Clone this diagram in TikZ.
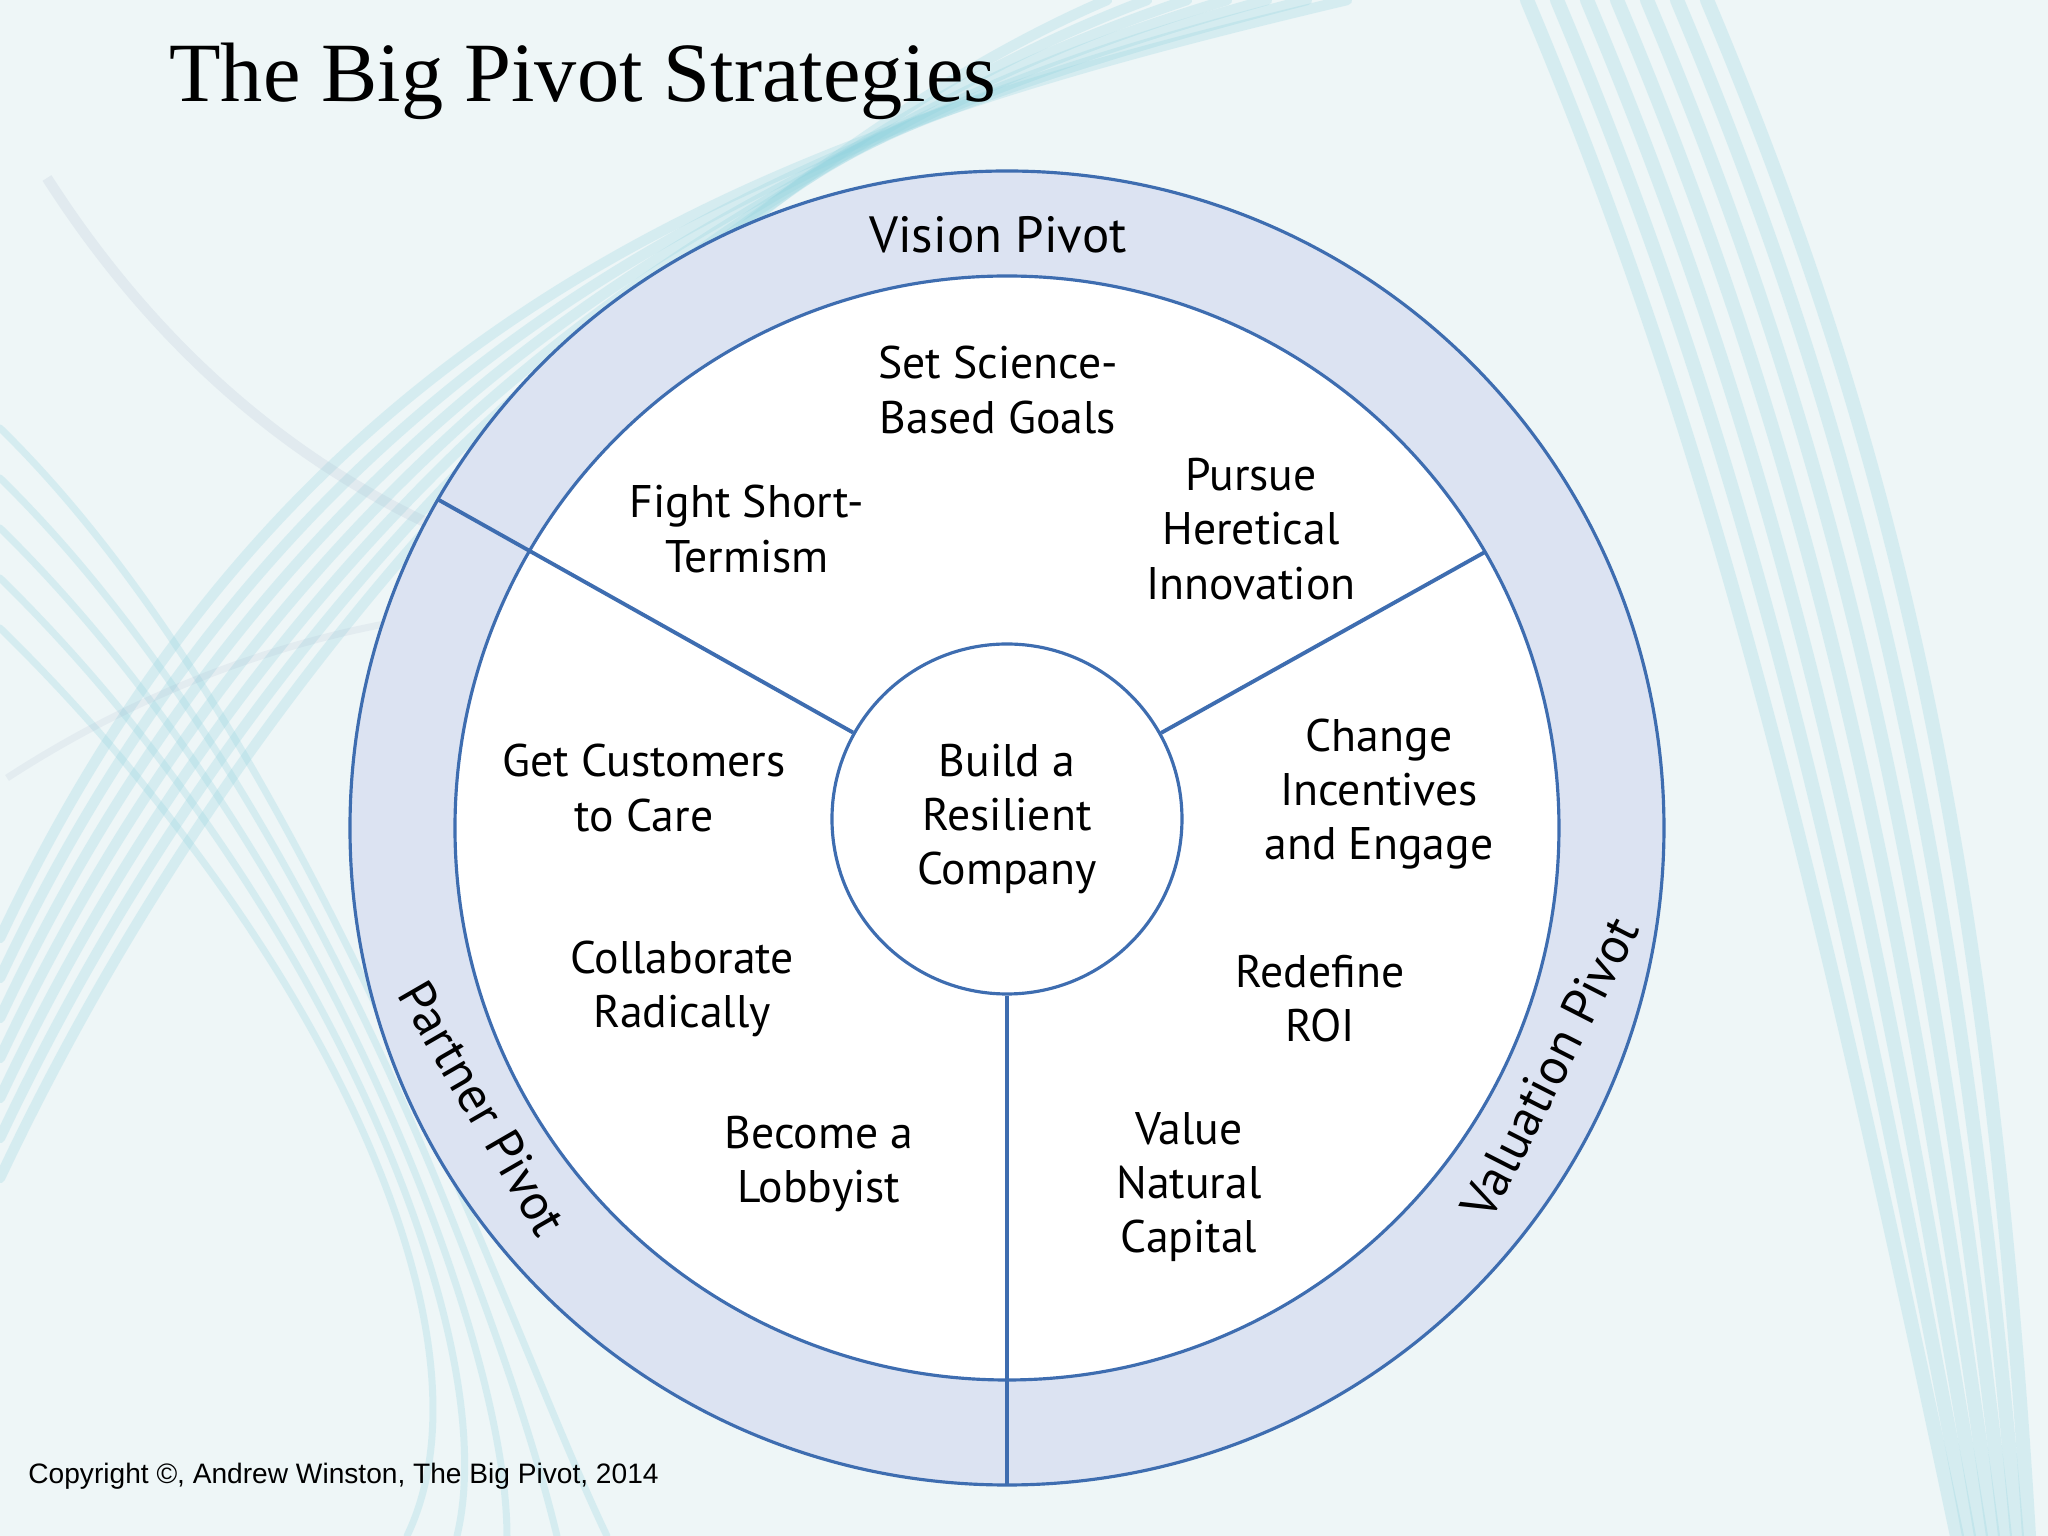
\documentclass[tikz,border=0pt]{standalone}
\usepackage{fontspec}
\setmainfont{PT Sans}
\newfontfamily\titlefont{Liberation Serif}
\newfontfamily\notefont{Liberation Sans}
\usetikzlibrary{positioning}
\definecolor{pivotline}{HTML}{3E6DB0}
\definecolor{pivotring}{HTML}{DCE3F2}
\definecolor{slidebg}{HTML}{EEF6F7}
\definecolor{swirlcyan}{HTML}{8ED2DF}
\definecolor{swirlgray}{HTML}{9AA9C4}

\begin{document}
\begin{tikzpicture}[every node/.style={font=\fontsize{13}{15.4}\selectfont},
 ring/.style={draw=pivotline,line width=0.9pt,fill=pivotring},
 inner/.style={draw=pivotline,line width=0.9pt,fill=white},
 hub/.style={circle,draw=pivotline,line width=0.9pt,fill=white,minimum size=3.5cm,align=center,inner sep=0pt},
 item/.style={align=center},
 pivot/.style={font=\fontsize{14.5}{17}\selectfont},
 spoke/.style={draw=pivotline,line width=1.1pt},
 swirl/.style={draw=swirlcyan,line width=#1,opacity=0.25,line cap=round},
 swirl/.default=2pt]
\useasboundingbox (-10.07,-7.08) rectangle (10.41,8.28);
\fill[slidebg] (-10.07,-7.08) rectangle (10.41,8.28);
% background streaks
\foreach \d in {0,0.4,...,2.4}
  \draw[swirl=3pt] (-10.07,-3.5+\d) .. controls (-7,3+\d) and (-2,7) .. (1+\d,8.28);
\foreach \d in {0,0.3,...,2.1}
  \draw[swirl=4pt] (5.2+\d,8.28) .. controls (7+\d,4) and (8+\d,0) .. (9.5+\d*0.4,-7.08);
\foreach \d in {0,0.5,...,2}
  \draw[swirl=2pt] (-10.07,2+\d) .. controls (-7,-1+\d) and (-5,-5) .. (-6+\d,-7.08);
\draw[swirlgray,line width=3pt,opacity=0.15] (-9.6,6.5) .. controls (-8,4) and (-6,3) .. (-4.6,2.6);
\draw[swirlgray,line width=2pt,opacity=0.12] (-10,0.5) .. controls (-8,1.8) and (-6,2.2) .. (-4.6,2.2);

% wheel
\draw[ring] (0,0) circle (6.57);
\draw[inner] (0,0) circle (5.52);
\node[hub] (hub) at (0,0.09) {Build a\\Resilient\\Company};
\coordinate (partnerend) at (150:6.57);
\coordinate (bottomend) at (270:6.57);
\coordinate (valueend) at (30:5.52);
\draw[spoke] (hub) -- (partnerend);
\draw[spoke] (hub) -- (bottomend);
\draw[spoke] (hub) -- (valueend);

% pivot names
\node[pivot] (vision) at (-0.09,5.93) {Vision Pivot};
\node[pivot,rotate=-60] (partner) at (-5.24,-2.80) {Partner Pivot};
\node[pivot,rotate=63] (valuation) at (5.43,-2.40) {Valuation Pivot};

% strategies
\node[item] (science) at (-0.09,4.38) {Set Science-\\Based Goals};
\node[item] (shortterm) at (-2.60,2.99) {Fight Short-\\Termism};
\node[item] (heretic) at (2.44,2.99) {Pursue\\Heretical\\Innovation};
\node[item] (customers) at (-3.63,0.40) {Get Customers\\to Care};
\node[item] (collab) at (-3.25,-1.61) {Collaborate\\Radically};
\node[item] (lobby) at (-1.88,-3.36) {Become a\\Lobbyist};
\node[item] (incent) at (3.72,0.34) {Change\\Incentives\\and Engage};
\node[item] (roi) at (3.13,-1.71) {Redefine\\ROI};
\node[item] (natcap) at (1.82,-3.59) {Value\\Natural\\Capital};

% title and note
\node[anchor=base west,font=\titlefont\fontsize{24}{28}\selectfont] (title) at (-8.50,7.26) {The Big Pivot Strategies};
\node[anchor=west,font=\notefont\fontsize{8}{10}\selectfont] (note) at (-9.91,-6.48) {Copyright \textcopyright, Andrew Winston, The Big Pivot, 2014};
\end{tikzpicture}
\end{document}
